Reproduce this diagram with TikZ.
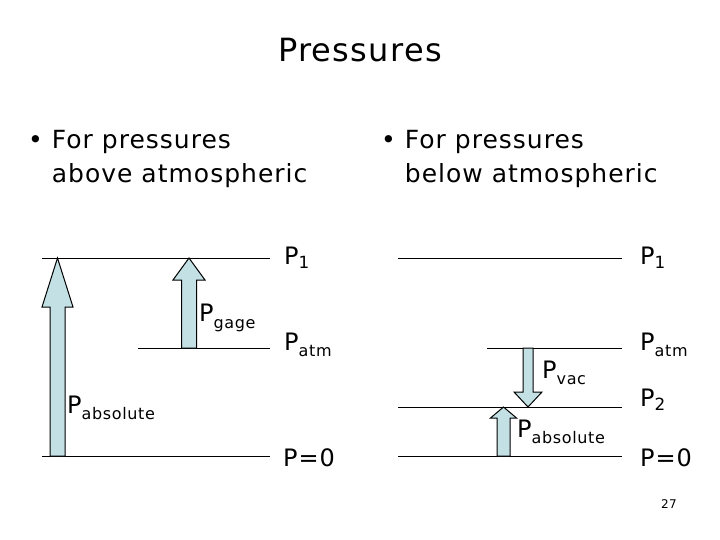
\documentclass[tikz,border=0pt]{standalone}
\usepackage{fontspec}
\setmainfont[LetterSpace=4]{DejaVu Sans}
\definecolor{arrfill}{RGB}{195,224,228}
\begin{document}
\begin{tikzpicture}[x=1pt,y=-1pt,
  lvl/.style={line width=1pt},
  lab/.style={anchor=west,inner sep=0pt,font=\fontsize{24}{27}\selectfont},
  bul/.style={anchor=north west,inner sep=0pt,align=left,font=\fontsize{25}{34}\selectfont},
  arr/.style={draw=black,fill=arrfill,line width=1pt}]
\useasboundingbox (0,0) rectangle (720,540);
\node[font=\fontsize{32}{36}\selectfont] (title) at (360,50) {Pressures};
\node[bul] (b1) at (28,130) {• For pressures\\\phantom{• }above atmospheric};
\node[bul] (b2) at (381,130) {• For pressures\\\phantom{• }below atmospheric};
% left
\draw[lvl] (42,258) -- (270,258);
\draw[lvl] (138,348) -- (270,348);
\draw[lvl] (42,456) -- (270,456);
% x, ybottom, ytop, head halfwidth, shaft halfwidth, head length
\newcommand\uparr[6]{%
  \draw[arr] (#1-#5,#2) -- (#1-#5,#3+#6) -- (#1-#4,#3+#6) -- (#1,#3) -- (#1+#4,#3+#6) -- (#1+#5,#3+#6) -- (#1+#5,#2) -- cycle;}
\newcommand\dnarr[6]{%
  \draw[arr] (#1-#5,#2) -- (#1-#5,#3-#6) -- (#1-#4,#3-#6) -- (#1,#3) -- (#1+#4,#3-#6) -- (#1+#5,#3-#6) -- (#1+#5,#2) -- cycle;}
\uparr{57.5}{456}{258}{15.5}{7.5}{49}
\uparr{189}{348}{258}{16}{7.5}{22}
\node[lab] (p1l) at (284,258) {P$_{\mathrm{1}}$};
\node[lab] (pgage) at (199,318) {P\raisebox{-0.5ex}{\fontsize{16}{18}\selectfont gage}};
\node[lab] (patml) at (284,345) {P\raisebox{-0.5ex}{\fontsize{16}{18}\selectfont atm}};
\node[lab] (pabsl) at (67,408) {P\raisebox{-0.5ex}{\fontsize{16}{18}\selectfont absolute}};
\node[lab] (p0l) at (283,458) {P=0};
% right
\draw[lvl] (398,258) -- (622,258);
\draw[lvl] (487,348) -- (622,348);
\draw[lvl] (398,407) -- (622,407);
\draw[lvl] (398,456) -- (622,456);
\dnarr{528}{348}{407}{14}{5}{15}
\uparr{503.5}{456}{407}{13}{6.5}{11}
\node[lab] (p1r) at (640,258) {P$_{\mathrm{1}}$};
\node[lab] (patmr) at (640,345) {P\raisebox{-0.5ex}{\fontsize{16}{18}\selectfont atm}};
\node[lab] (pvac) at (542,373) {P\raisebox{-0.5ex}{\fontsize{16}{18}\selectfont vac}};
\node[lab] (p2) at (640,400) {P$_{\mathrm{2}}$};
\node[lab] (pabsr) at (517,432) {P\raisebox{-0.5ex}{\fontsize{16}{18}\selectfont absolute}};
\node[lab] (p0r) at (640,458) {P=0};
\node[font=\fontsize{12}{14}\selectfont] (pg) at (669,504) {27};
\end{tikzpicture}
\end{document}
